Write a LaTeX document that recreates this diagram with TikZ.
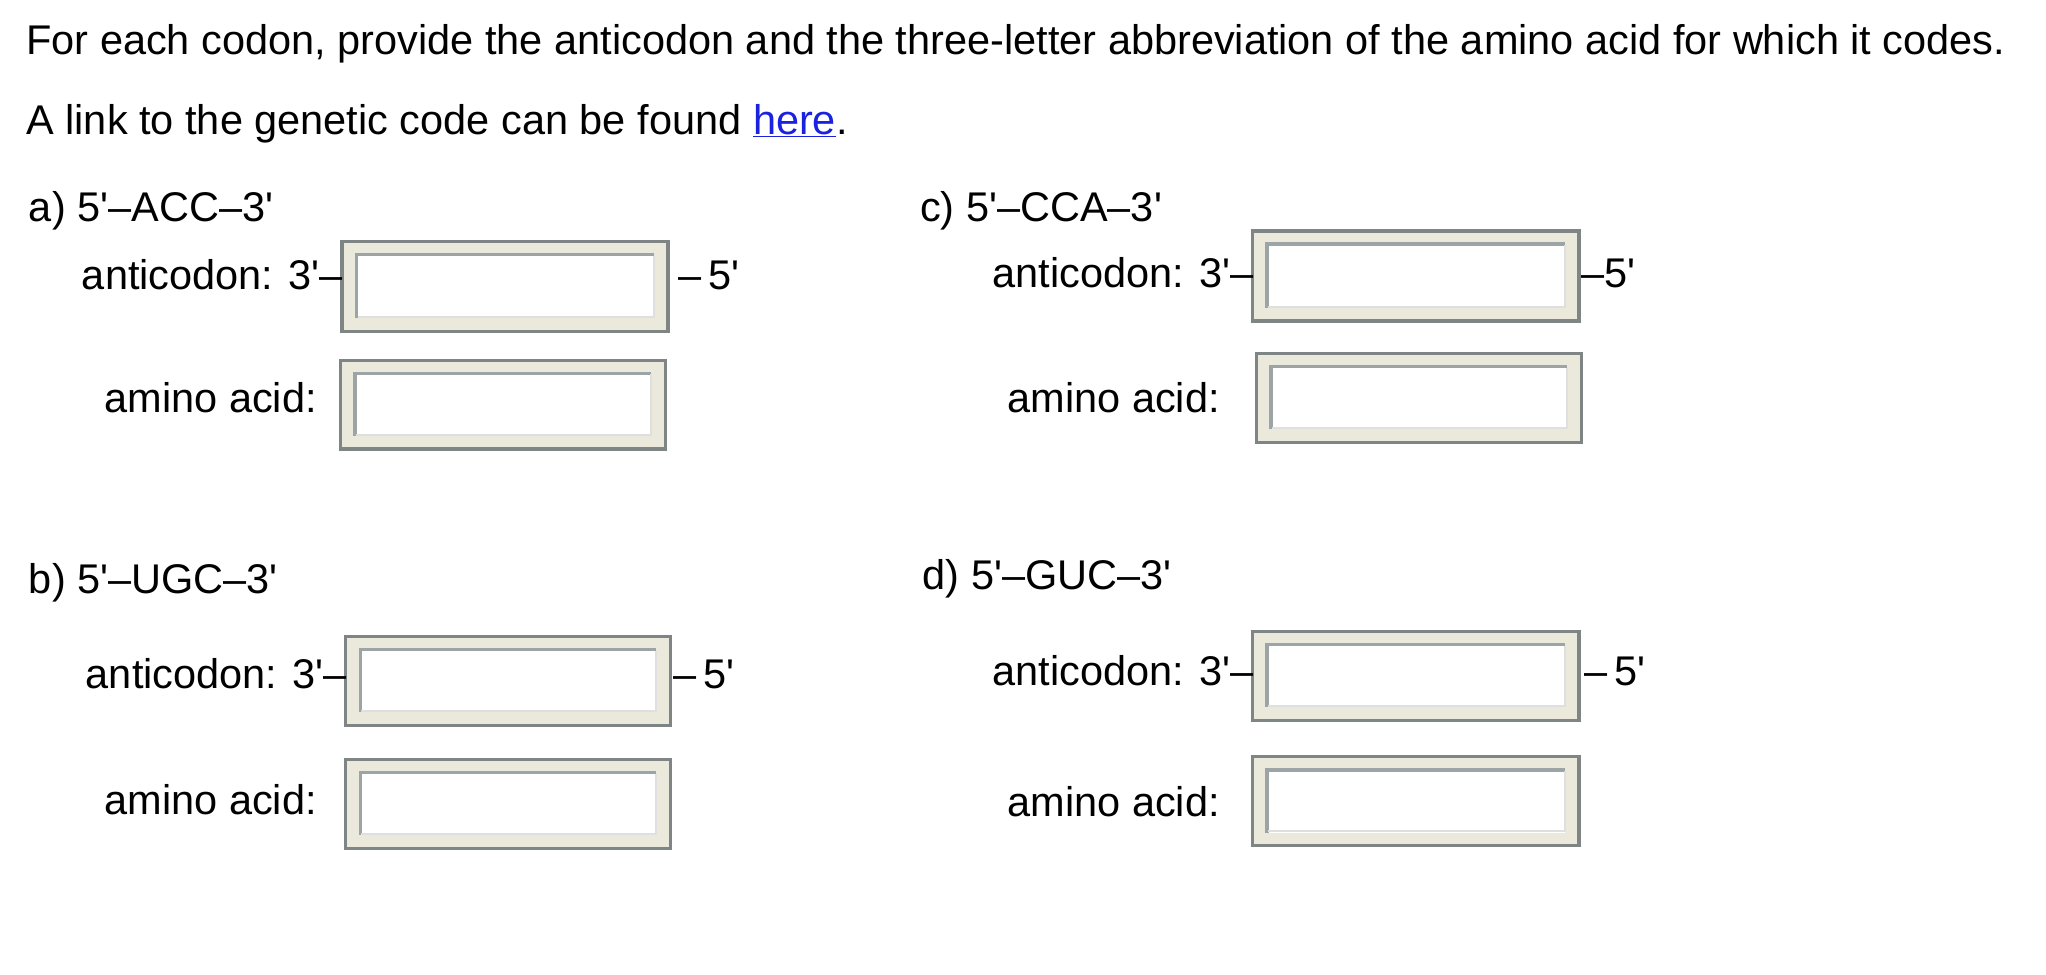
\documentclass[tikz,border=0pt]{standalone}
\usepackage{fontspec}
\setmainfont{Liberation Sans}
\definecolor{bord}{HTML}{7F8584}
\definecolor{beige}{HTML}{EBE8DC}
\definecolor{inb}{HTML}{9CA4A6}
\definecolor{linkc}{HTML}{1A22E0}
\newcommand{\pq}{\textquotesingle}
\tikzset{
  txt/.style={inner sep=0pt,font=\fontsize{31.8}{38}\selectfont},
}
\newcommand{\ansbox}[5]{% name, x1,y1,x2,y2
  \fill[beige,draw=bord,line width=2.5pt] (#2,#3) rectangle (#4,#5);
  \fill[white] (#2+11,#3+10) rectangle (#4-11,#5-10);
  \draw[inb,line width=2.5pt] (#2+11,#5-10) -- (#2+11,#3+10) -- (#4-11,#3+10);
  \draw[gray!25,line width=1.5pt] (#2+12,#5-11) -- (#4-11,#5-11) -- (#4-11,#3+11);
  \coordinate (#1w) at (#2,{(#3+#5)/2});
  \coordinate (#1e) at (#4,{(#3+#5)/2});
}
\begin{document}
\begin{tikzpicture}[x=1pt,y=-1pt]
\useasboundingbox[fill=white] (0,0) rectangle (1568,747);
\node[txt,anchor=base west] (l1) at (20,42) {For each codon, provide the anticodon and the three-letter abbreviation of the amino acid for which it codes.};
\node[txt,anchor=base west] (l2) at (20,103) {A link to the genetic code can be found \textcolor{linkc}{\underline{here}}.};
% a
\node[txt,anchor=base west] (ha) at (22,170) {a) 5\pq–ACC–3\pq};
\ansbox{a1}{262}{185}{512}{254}
\node[txt,anchor=base east] (la1) at (263,222) {anticodon: 3\pq–};
\node[txt,anchor=base west] (ra1) at (520,222) {–\,5\pq};
\ansbox{a2}{261}{276}{510}{344}
\node[txt,anchor=base east] (la2) at (243,316) {amino acid:};
% c
\node[txt,anchor=base west] (hc) at (705,170) {c) 5\pq–CCA–3\pq};
\ansbox{c1}{960}{177}{1210}{246}
\node[txt,anchor=base east] (lc1) at (961,220) {anticodon: 3\pq–};
\node[txt,anchor=base west] (rc1) at (1212,220) {–5\pq};
\ansbox{c2}{963}{271}{1212}{339}
\node[txt,anchor=base east] (lc2) at (935,316) {amino acid:};
% b
\node[txt,anchor=base west] (hb) at (22,455) {b) 5\pq–UGC–3\pq};
\ansbox{b1}{265}{488}{514}{556}
\node[txt,anchor=base east] (lb1) at (266,528) {anticodon: 3\pq–};
\node[txt,anchor=base west] (rb1) at (516,528) {–\,5\pq};
\ansbox{b2}{265}{582}{514}{650}
\node[txt,anchor=base east] (lb2) at (243,624) {amino acid:};
% d
\node[txt,anchor=base west] (hd) at (707,452) {d) 5\pq–GUC–3\pq};
\ansbox{d1}{960}{484}{1210}{552}
\node[txt,anchor=base east] (ld1) at (961,525) {anticodon: 3\pq–};
\node[txt,anchor=base west] (rd1) at (1214,525) {–\,5\pq};
\ansbox{d2}{960}{580}{1210}{648}
\node[txt,anchor=base east] (ld2) at (935,626) {amino acid:};
\end{tikzpicture}
\end{document}
